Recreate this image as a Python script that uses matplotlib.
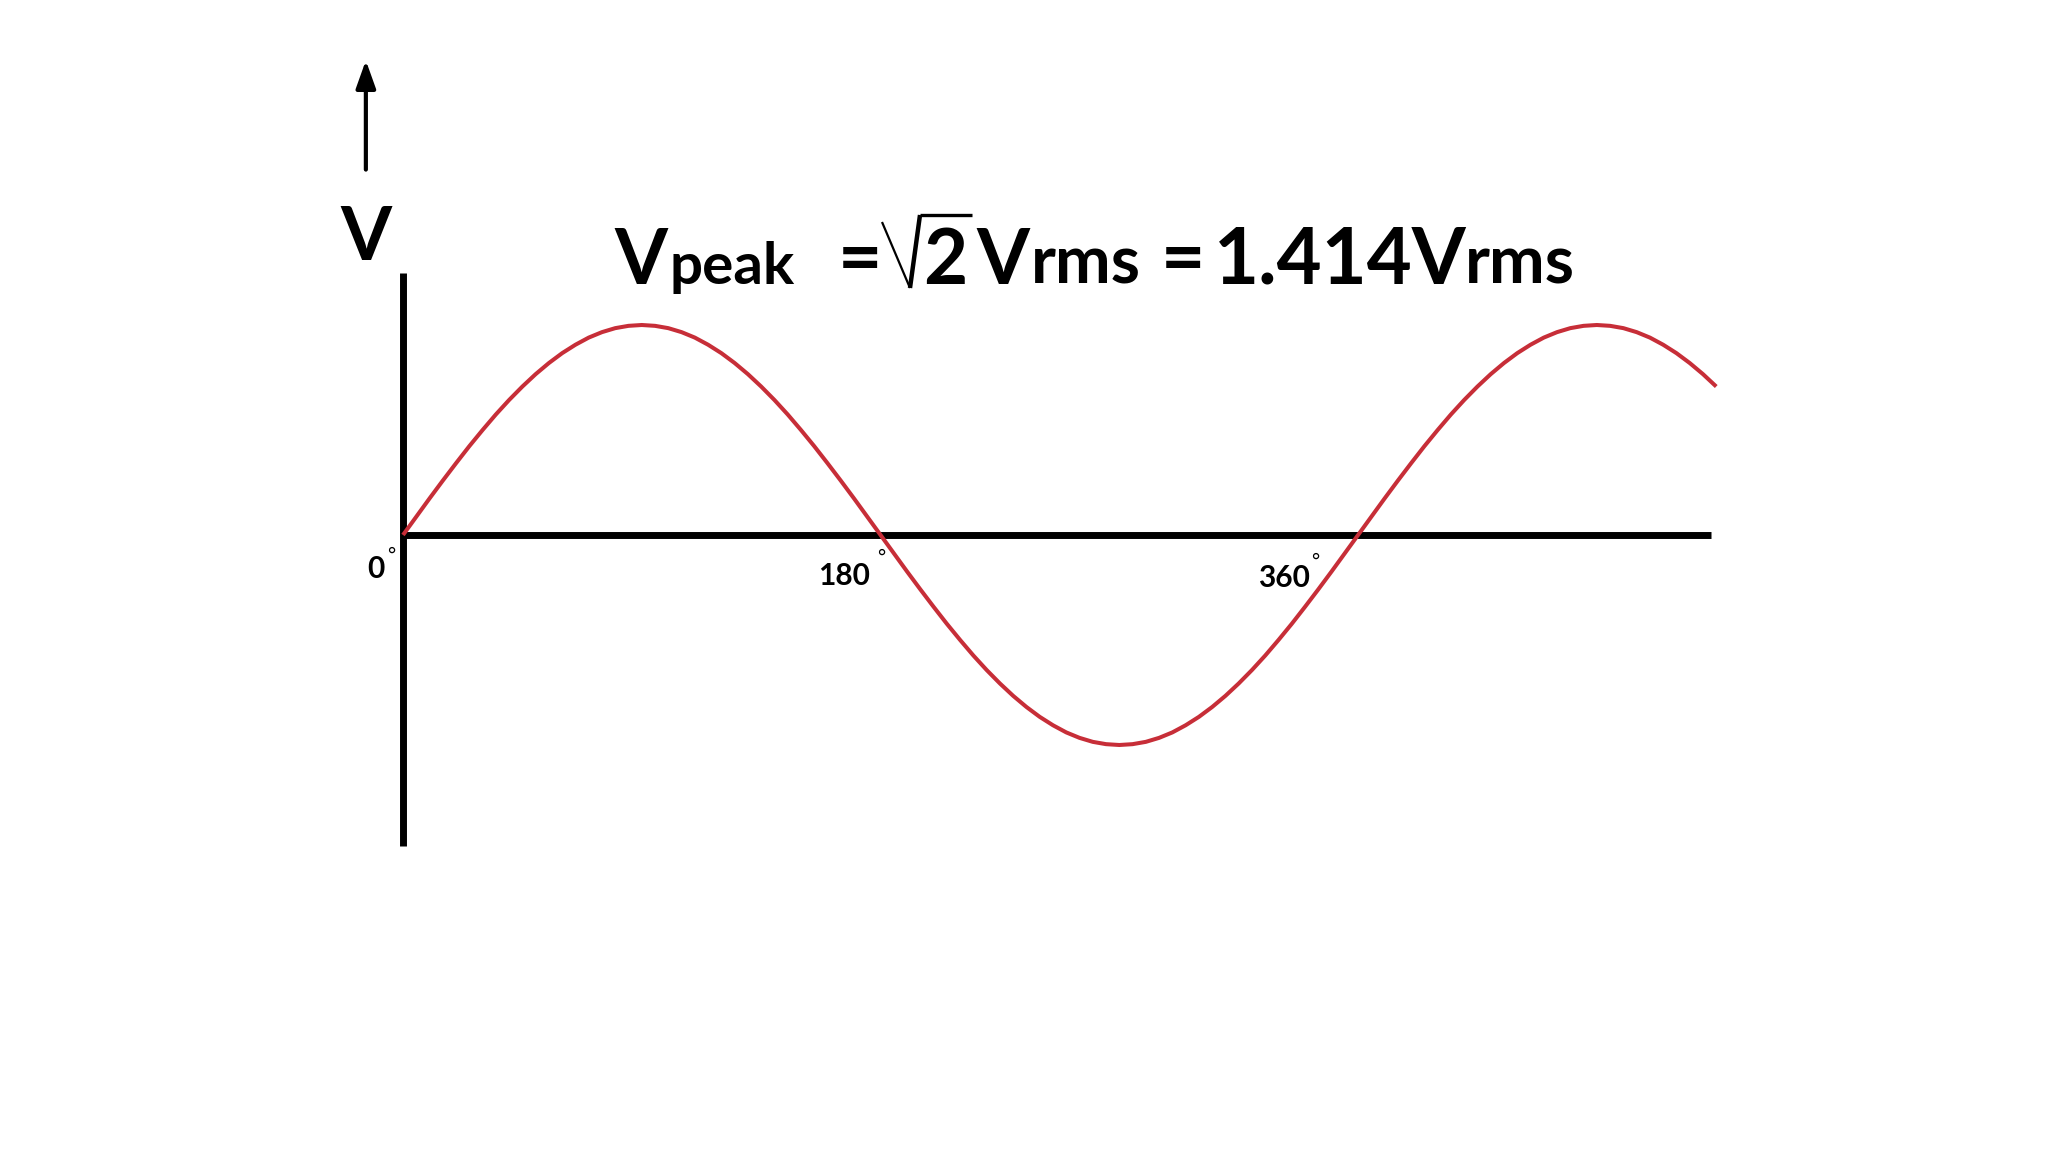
import matplotlib
matplotlib.use("Agg")
import matplotlib.pyplot as plt
from matplotlib.lines import Line2D

# ---------------- data ----------------
angles_deg = list(range(0, 500, 5))   # 0, 5, 10, ... 495 degrees
voltage = [
    0.000, 0.087, 0.174, 0.259, 0.342, 0.423, 0.500, 0.574, 0.643, 0.707,
    0.766, 0.819, 0.866, 0.906, 0.940, 0.966, 0.985, 0.996, 1.000, 0.996,
    0.985, 0.966, 0.940, 0.906, 0.866, 0.819, 0.766, 0.707, 0.643, 0.574,
    0.500, 0.423, 0.342, 0.259, 0.174, 0.087, 0.000, -0.087, -0.174, -0.259,
    -0.342, -0.423, -0.500, -0.574, -0.643, -0.707, -0.766, -0.819, -0.866, -0.906,
    -0.940, -0.966, -0.985, -0.996, -1.000, -0.996, -0.985, -0.966, -0.940, -0.906,
    -0.866, -0.819, -0.766, -0.707, -0.643, -0.574, -0.500, -0.423, -0.342, -0.259,
    -0.174, -0.087, 0.000, 0.087, 0.174, 0.259, 0.342, 0.423, 0.500, 0.574,
    0.643, 0.707, 0.766, 0.819, 0.866, 0.906, 0.940, 0.966, 0.985, 0.996,
    1.000, 0.996, 0.985, 0.966, 0.940, 0.906, 0.866, 0.819, 0.766, 0.707,
]
tick_values = [0, 180, 360]
tick_labels = ["0", "180", "360"]
h_axis_end = 493          # degrees
v_axis_range = [-1.48, 1.25]
arrow_range = [1.74, 2.26]

# ---------------- layout ----------------
W, H = 2048, 1152
X0PX, Y0PX = 403, 535
PX_PER_DEG, PX_PER_UNIT = 2.653, 210

fig = plt.figure(figsize=(W / 100, H / 100), dpi=100)
fig.patch.set_facecolor("white")
ax = fig.add_axes([0, 0, 1, 1])
ax.set_xlim(-X0PX / PX_PER_DEG, (W - X0PX) / PX_PER_DEG)
ax.set_ylim(-(H - Y0PX) / PX_PER_UNIT, Y0PX / PX_PER_UNIT)
ax.axis("off")

RED = "#C72E38"
FONT = "Lato"

# axes
ax.plot([0, h_axis_end], [0, 0], color="black", lw=5, solid_capstyle="butt", zorder=2)
ax.plot([0, 0], v_axis_range, color="black", lw=5, solid_capstyle="butt", zorder=2)
# sine wave
ax.plot(angles_deg, voltage, color=RED, lw=2.9, solid_capstyle="butt",
        solid_joinstyle="round", zorder=3)

# arrow above the V label
arrow_x = -14
ax.annotate("", xy=(arrow_x, arrow_range[1]), xytext=(arrow_x, arrow_range[0]),
            arrowprops=dict(arrowstyle="-|>,head_length=0.42,head_width=0.15",
                            mutation_scale=40, lw=3, color="black",
                            shrinkA=0, shrinkB=0))


def ptext(x, y, s, size, ha="center", weight="bold"):
    fig.text(x / W, 1 - y / H, s, ha=ha, va="baseline", fontsize=size,
             fontweight=weight, family=[FONT, "DejaVu Sans"], color="black")


# axis label
ptext(366, 260, "V", 53)

# equation
BASE = 284
ptext(641, BASE, "V", 55)
ptext(732, BASE, "peak", 42)
ptext(859.5, BASE, "=", 55)
ptext(945, BASE, "2", 55)
ptext(1002.5, BASE, "V", 55)
ptext(1086, BASE, "rms", 48)
ptext(1183, BASE, "=", 55)
ptext(1340, BASE, "1.414V", 56)
ptext(1520, BASE, "rms", 48)

# radical sign
def pline(xs, ys, lw):
    fig.add_artist(Line2D([x / W for x in xs], [1 - y / H for y in ys],
                          color="black", lw=lw, solid_capstyle="butt",
                          solid_joinstyle="miter", transform=fig.transFigure))

pline([882, 910], [222, 288], 1.6)
pline([910, 920], [288, 215], 3.2)
pline([920, 972], [215, 215], 2.4)

# degree labels (pixel offsets: label right edge / baseline, ring x / ring raise)
label_offsets_px = [(-18, 43), (-11, 50), (-48, 52)]
ring_offsets_px = [(2, 17.5), (8, 22), (1, 20.5)]
for val, lab, (dx, dy), (rx, ry) in zip(tick_values, tick_labels,
                                        label_offsets_px, ring_offsets_px):
    ax.annotate(lab, xy=(val, 0), xytext=(dx * 0.72, -dy * 0.72),
                textcoords="offset points", ha="right", va="baseline",
                fontsize=21.5, fontweight="bold", family=[FONT, "DejaVu Sans"])
    ax.annotate("\u00b0", xy=(val, 0), xytext=((dx + rx) * 0.72, -(dy - ry) * 0.72),
                textcoords="offset points", ha="left", va="baseline",
                fontsize=14, family=[FONT, "DejaVu Sans"])

fig.savefig("out.png", dpi=100, facecolor="white")
